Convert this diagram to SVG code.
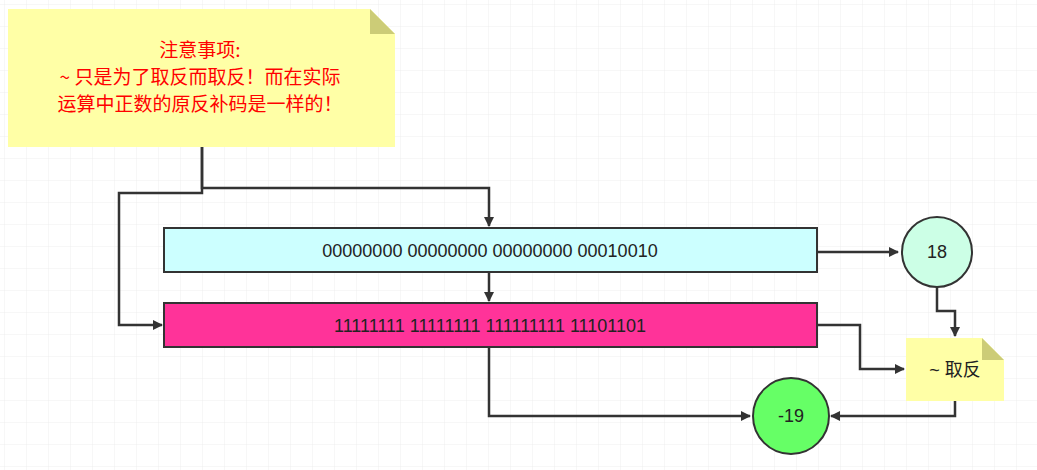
<svg xmlns="http://www.w3.org/2000/svg" width="1037" height="470" viewBox="0 0 1037 470">
<defs>
<pattern id="g" width="22" height="22" patternUnits="userSpaceOnUse" x="5" y="5"><path d="M22 0V22H0" fill="none" stroke="#eee" stroke-width="1"/></pattern>
<marker id="a" markerWidth="10" markerHeight="10" refX="9" refY="5" orient="auto" markerUnits="userSpaceOnUse"><path d="M0 0L10 5L0 10Z" fill="#333"/></marker>
</defs>
<style>
.c{fill:none;stroke:#333;stroke-width:2.5;marker-end:url(#a)}
.b{stroke:#333;stroke-width:2}
.t{font-family:"Liberation Sans","Noto Sans CJK SC",sans-serif;font-size:18px;fill:#222;text-anchor:middle;dominant-baseline:central}
.r{font-family:"Noto Sans CJK SC",serif;font-size:19px;fill:#f00;text-anchor:middle}
</style>
<rect width="1037" height="470" fill="#fff"/>
<rect width="1037" height="470" fill="url(#g)"/>
<g id="connectors">
<path class="c" d="M202 147V188H489V226"/>
<path class="c" d="M202 147V193H119V325H162"/>
<path class="c" d="M489 272V301"/>
<path class="c" d="M817 252H898"/>
<path class="c" d="M937 287V311H955V336"/>
<path class="c" d="M817 325H860V369H904"/>
<path class="c" d="M489 347V416H750"/>
<path class="c" d="M955 401V416H831"/>
</g>
<g id="note1">
<path d="M8 9H370L395 34V147H8Z" fill="#ffffa6"/>
<path d="M370 9L395 34H370Z" fill="#cccc77"/>
<text class="r" x="200" y="57">注意事项:</text>
<text class="r" x="200" y="84">~ 只是为了取反而取反！而在实际</text>
<text class="r" x="200" y="111">运算中正数的原反补码是一样的！</text>
</g>
<g id="pos"><rect class="b" x="164" y="228" width="653" height="44" fill="#ccffff"/><text class="t" x="490" y="251">00000000 00000000 00000000 00010010</text></g>
<g id="neg"><rect class="b" x="164" y="303" width="653" height="44" fill="#ff3399"/><text class="t" x="490" y="326">11111111 11111111 111111111 11101101</text></g>
<g id="n18"><circle class="b" cx="937" cy="252" r="35" fill="#ccffe6"/><text class="t" x="937" y="252">18</text></g>
<g id="note2">
<path d="M906 338H982L1004 360V401H906Z" fill="#ffffa6"/>
<path d="M982 338L1004 360H982Z" fill="#cccc77"/>
<text class="t" x="955" y="370">~ 取反</text>
</g>
<g id="n19"><circle class="b" cx="791" cy="416" r="38" fill="#66ff66"/><text class="t" x="791" y="416">-19</text></g>
</svg>
